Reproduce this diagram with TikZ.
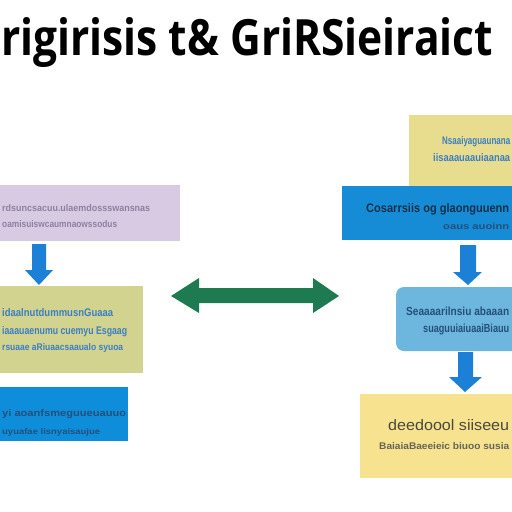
\documentclass[tikz,border=0pt]{standalone}
\usepackage{fontspec}
\setmainfont{Open Sans}
\newfontfamily\boxfont{Liberation Sans}
\newcommand\fitt[3]{\resizebox{#1pt}{#2pt}{#3}}
\definecolor{purplebox}{HTML}{D9CAE3}
\definecolor{olivebox}{HTML}{D1D38E}
\definecolor{bluebox}{HTML}{0E8DDA}
\definecolor{bluebox2}{HTML}{168BD6}
\definecolor{lightbluebox}{HTML}{6DB6DD}
\definecolor{yellowtop}{HTML}{E8DD8E}
\definecolor{yellowbot}{HTML}{F7E290}
\definecolor{arrowblue}{HTML}{1C80D6}
\definecolor{arrowgreen}{HTML}{1E7A50}
\definecolor{grayviolet}{HTML}{8C82A0}
\definecolor{textblue}{HTML}{3C7FC2}
\definecolor{darkbluetext}{HTML}{24507A}
\definecolor{darkolive}{HTML}{4A4A3A}
\begin{document}
\begin{tikzpicture}[x=1pt,y=-1pt,
  txt/.style={font=\boxfont\bfseries,inner sep=0pt,anchor=base west},
  blockarrow/.style={fill=arrowblue,draw=none}]
\useasboundingbox (0,0) rectangle (512,512);
\clip (0,0) rectangle (512,512);
\fill[white] (0,0) rectangle (512,512);
% title
\node[anchor=base west,inner sep=0pt,font=\bfseries\fontsize{50}{52}\selectfont,xscale=0.85] (title) at (1,55) {rigirisis t\& GriRSieiraict};
% left column
\fill[purplebox] (0,185) rectangle (180,241);
\node[txt,text=grayviolet] (p1) at (2,211.5) {\fitt{148}{7}{rdsuncsacuu.ulaemdossswansnas}};
\node[txt,text=grayviolet] (p2) at (2,227.5) {\fitt{115}{7}{oamisuiswcaumnaowssodus}};
\fill[olivebox] (0,286) rectangle (143,373);
\node[txt,text=textblue] (o1) at (2,316) {\fitt{111}{8}{idaalnutdummusnGuaaa}};
\node[txt,text=textblue] (o2) at (2,334.5) {\fitt{125}{8}{iaaauaenumu cuemyu  Esgaag}};
\node[txt,text=textblue] (o3) at (2,350) {\fitt{121}{7}{rsuaae aRiuaacsaaualo syuoa}};
\fill[bluebox] (0,387) rectangle (128,441);
\node[txt,text=darkbluetext] (b1) at (2,416.5) {\fitt{124}{7}{yi aoanfsmeguueuauuo}};
\node[txt,text=darkbluetext] (b2) at (2,434) {\fitt{98}{6}{uyuafae lisnyaisaujue}};
% arrow left
\fill[blockarrow] (32,244) -- (46,244) -- (46,270) -- (53,270) -- (39,285) -- (25,270) -- (32,270) -- cycle;
% green double arrow
\fill[arrowgreen] (171,296) -- (199,278) -- (199,288) -- (313,288) -- (313,278) -- (339,296) -- (313,313) -- (313,303) -- (199,303) -- (199,313) -- cycle;
% right column
\fill[yellowtop] (409,115) rectangle (512,186);
\node[txt,text=textblue] (y1) at (442,144) {\fitt{68}{8}{Nsaaiyaguaunana}};
\node[txt,text=textblue] (y2) at (433,161) {\fitt{77}{8}{iisaaauaauiaanaa}};
\fill[bluebox2] (342,186) rectangle (512,240);
\node[txt,text=darkbluetext!60!black] (r1) at (366,212) {\fitt{143}{9}{Cosarrsiis og glaonguuenn}};
\node[txt,text=darkbluetext] (r2) at (443,229) {\fitt{66}{6.5}{oaus auoinn}};
\fill[blockarrow] (460,245) -- (476,245) -- (476,272) -- (482,272) -- (468,285) -- (453,272) -- (460,272) -- cycle;
\fill[lightbluebox,rounded corners=8pt] (396,287) rectangle (530,351);
\node[txt,text=darkbluetext] (l1) at (406,315) {\fitt{103}{8.5}{Seaaaarilnsiu abaaan}};
\node[txt,text=darkbluetext] (l2) at (423,332) {\fitt{86}{8.5}{suaguuiaiuaaiBiauu}};
\fill[blockarrow] (458,352) -- (473,352) -- (473,377) -- (482,377) -- (465,392) -- (449,377) -- (458,377) -- cycle;
\fill[yellowbot] (360,394) rectangle (512,478);
\node[txt,text=darkolive,font=\boxfont] (d1) at (388,430) {\fitt{121}{11}{deedoool siiseeu}};
\node[txt,text=darkolive!85] (d2) at (379,449) {\fitt{130}{7}{BaiaiaBaeeieic biuoo susia}};
\end{tikzpicture}
\end{document}
